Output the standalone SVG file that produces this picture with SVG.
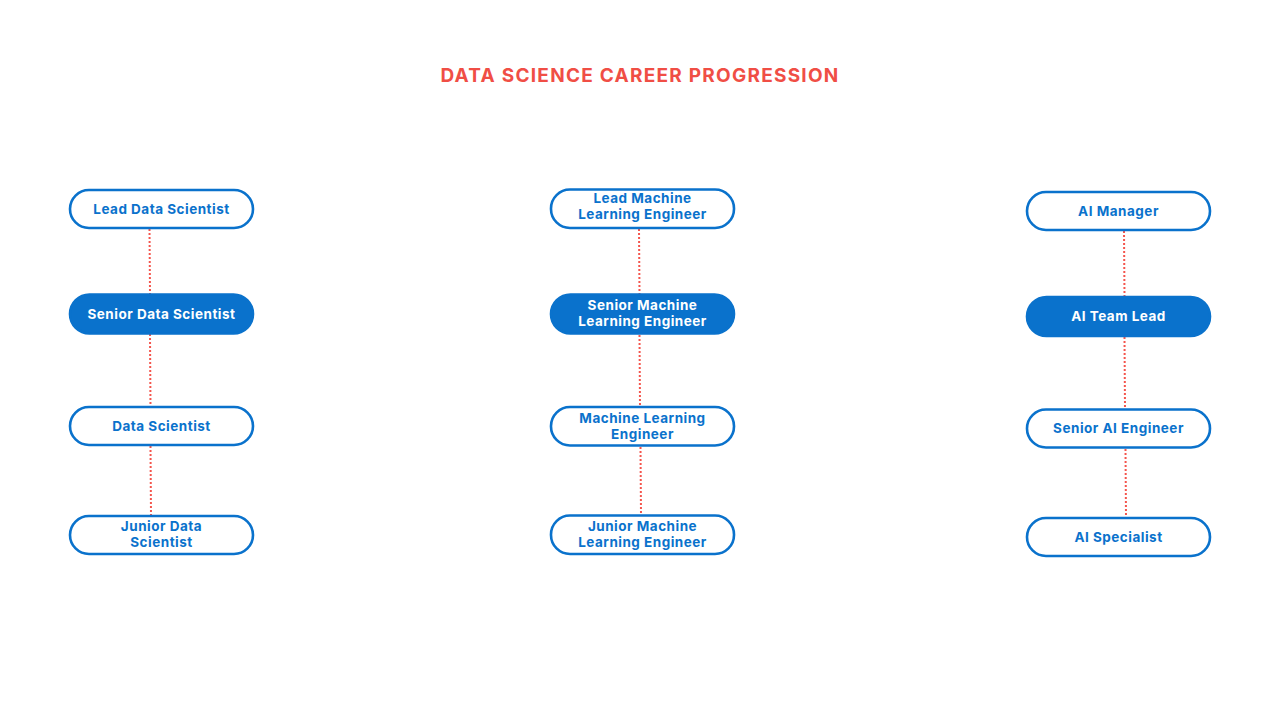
<svg xmlns="http://www.w3.org/2000/svg" width="1280" height="720" viewBox="0 0 1280 720">
<style>
.box{fill:#ffffff;stroke:#0a72cc;stroke-width:2.6}
.fbox{fill:#0a72cc;stroke:#0a72cc;stroke-width:2.6}
.t{font-family:Inter,"Noto Sans","Liberation Sans",sans-serif;font-weight:700;font-size:13.5px;letter-spacing:0.5px;fill:#0a72cc;text-anchor:middle}
.ft{fill:#ffffff}
.c{stroke:#f4554d;stroke-width:2;stroke-dasharray:2 2;fill:none}
.title{font-family:Inter,"Noto Sans","Liberation Sans",sans-serif;font-weight:700;font-size:19px;letter-spacing:1.25px;fill:#f04e45;text-anchor:middle}
</style>
<rect width="1280" height="720" fill="#ffffff"/>
<text class="title" x="640" y="82">DATA SCIENCE CAREER PROGRESSION</text>
<g id="connectors">
<line class="c" x1="149.5" y1="229" x2="150" y2="294"/>
<line class="c" x1="150" y1="334" x2="150.5" y2="407"/>
<line class="c" x1="150.5" y1="446" x2="151" y2="516"/>
<line class="c" x1="639" y1="229" x2="639.5" y2="294"/>
<line class="c" x1="639.5" y1="335" x2="640" y2="407"/>
<line class="c" x1="640.5" y1="447" x2="641" y2="515"/>
<line class="c" x1="1124" y1="231" x2="1124.5" y2="297"/>
<line class="c" x1="1124.5" y1="337" x2="1125" y2="409"/>
<line class="c" x1="1125.5" y1="449" x2="1126" y2="518"/>
</g>
<g id="lead-data-scientist"><rect class="box" x="70" y="190" width="183" height="38" rx="19"/><text class="t" x="161.5" y="213.5">Lead Data Scientist</text></g>
<g id="senior-data-scientist"><rect class="fbox" x="70" y="294.5" width="183" height="39" rx="19.5"/><text class="t ft" x="161.5" y="318.5">Senior Data Scientist</text></g>
<g id="data-scientist"><rect class="box" x="70" y="407" width="183" height="38" rx="19"/><text class="t" x="161.5" y="430.5">Data Scientist</text></g>
<g id="junior-data-scientist"><rect class="box" x="70" y="516" width="183" height="38" rx="19"/><text class="t" x="161.5" y="531">Junior Data</text><text class="t" x="161.5" y="547">Scientist</text></g>
<g id="lead-mle"><rect class="box" x="551" y="189.5" width="183" height="38.5" rx="19"/><text class="t" x="642.5" y="203">Lead Machine</text><text class="t" x="642.5" y="219">Learning Engineer</text></g>
<g id="senior-mle"><rect class="fbox" x="551" y="294.5" width="183" height="39" rx="19.5"/><text class="t ft" x="642.5" y="310">Senior Machine</text><text class="t ft" x="642.5" y="326">Learning Engineer</text></g>
<g id="mle"><rect class="box" x="551" y="407" width="183" height="38.5" rx="19"/><text class="t" x="642.5" y="423">Machine Learning</text><text class="t" x="642.5" y="439">Engineer</text></g>
<g id="junior-mle"><rect class="box" x="551" y="515.5" width="183" height="38.5" rx="19"/><text class="t" x="642.5" y="531">Junior Machine</text><text class="t" x="642.5" y="547">Learning Engineer</text></g>
<g id="ai-manager"><rect class="box" x="1027" y="192" width="183" height="38" rx="19"/><text class="t" x="1118.5" y="215.5">AI Manager</text></g>
<g id="ai-team-lead"><rect class="fbox" x="1027" y="297" width="183" height="39" rx="19.5"/><text class="t ft" x="1118.5" y="321">AI Team Lead</text></g>
<g id="senior-ai-engineer"><rect class="box" x="1027" y="409.5" width="183" height="38" rx="19"/><text class="t" x="1118.5" y="433">Senior AI Engineer</text></g>
<g id="ai-specialist"><rect class="box" x="1027" y="518" width="183" height="38" rx="19"/><text class="t" x="1118.5" y="541.5">AI Specialist</text></g>
</svg>
